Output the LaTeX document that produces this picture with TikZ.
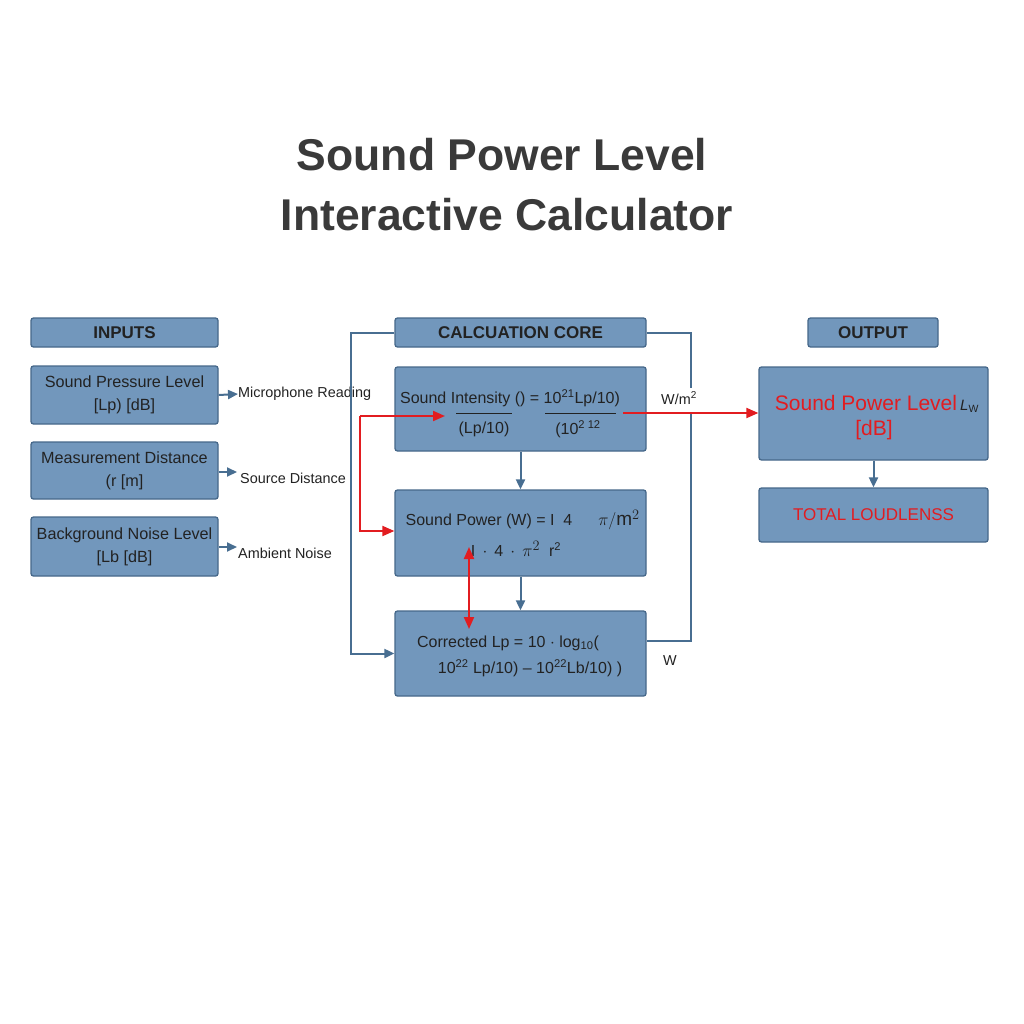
\documentclass[tikz,border=0pt]{standalone}
\usepackage{fontspec}
\setmainfont{Liberation Sans}
\usetikzlibrary{arrows.meta}
\definecolor{boxfill}{RGB}{114,151,188}
\definecolor{boxedge}{RGB}{70,104,138}
\definecolor{linecol}{RGB}{72,110,145}
\definecolor{redc}{RGB}{226,28,32}
\definecolor{txt}{RGB}{34,34,34}
\definecolor{titlec}{RGB}{58,58,58}
\tikzset{
  box/.style={draw=boxedge, fill=boxfill, rounded corners=2.5pt, line width=1.3pt, inner sep=0pt, text=txt, align=center, font=\fontsize{16.2}{23}\selectfont},
  head/.style={box, font=\fontsize{17}{21}\bfseries\selectfont},
  tx/.style={inner sep=0pt, text=txt, font=\fontsize{16}{19}\selectfont},
  lab/.style={inner sep=0pt, text=txt, font=\fontsize{14.4}{17}\selectfont},
  bl/.style={draw=linecol, line width=2pt},
  blarrow/.style={bl, -{Triangle[length=10pt,width=9pt]}},
  redarrow/.style={draw=redc, line width=2pt, -{Triangle[length=12pt,width=10pt]}},
}
\begin{document}
\begin{tikzpicture}[x=1pt,y=-1pt]
\useasboundingbox[fill=white] (0,0) rectangle (1024,1024);

% title
\node[inner sep=0pt, text=titlec, font=\fontsize{44.5}{50}\bfseries\selectfont] (t1) at (502,155) {Sound Power Level};
\node[inner sep=0pt, text=titlec, font=\fontsize{44.5}{50}\bfseries\selectfont] (t2) at (507,215) {Interactive Calculator};

% inputs column
\node[head, minimum width=187pt, minimum height=29pt] (inputs) at (124.5,332.5) {INPUTS};
\node[box, minimum width=187pt, minimum height=58pt] (spl) at (124.5,395) {Sound Pressure Level\\{[Lp) [dB]}};
\node[box, minimum width=187pt, minimum height=57pt] (md) at (124.5,470.5) {Measurement Distance\\(r [m]};
\node[box, minimum width=187pt, minimum height=59pt] (bnl) at (124.5,546.5) {Background Noise Level\\{[Lb [dB]}};

\node[lab, anchor=west] (mic) at (238,394) {Microphone Reading};
\node[lab, anchor=west] (src) at (240,478) {Source Distance};
\node[lab, anchor=west] (amb) at (238,553) {Ambient Noise};
\coordinate (srcin) at (237,472);
\coordinate (ambin) at (237,547);
\draw[blarrow] (spl.east) -- (mic.west);
\draw[blarrow] (md.east |- srcin) -- (srcin);
\draw[blarrow] (bnl.east |- ambin) -- (ambin);

% core column
\node[head, minimum width=251pt, minimum height=29pt] (core) at (520.5,332.5) {CALCUATION CORE};
\node[box, minimum width=251pt, minimum height=84pt] (si) at (520.5,409) {};
\node[box, minimum width=251pt, minimum height=86pt] (sp) at (520.5,533) {};
\node[box, minimum width=251pt, minimum height=85pt] (corr) at (520.5,653.5) {};

% sound intensity text
\node[tx] (si1) at (510,398) {Sound Intensity () = 10\textsuperscript{21}Lp/10)};
\node[tx] (si2) at (484,429) {(Lp/10)};
\node[tx] (si3) at (578,429) {(10\textsuperscript{2 12}};
\draw[txt, line width=0.9pt] (456,413) -- (512,413);
\draw[txt, line width=0.9pt] (545,413) -- (616,413);

% sound power text
\node[tx] (sp1) at (489,521) {Sound Power (W) = I\ \ 4};
\node[tx, font=\fontsize{19}{21}\selectfont] (sp2) at (619,520) {$\pi/\mathrm{m}^2$};
\node[tx] (sp3) at (516,549) {I \,$\cdot$\, 4 \,$\cdot$\, \fontsize{19}{21}\selectfont$\pi^2$\fontsize{16}{19}\selectfont\ \ r\textsuperscript{2}};

% corrected text
\node[tx] (c1) at (508,643) {Corrected Lp = 10 $\cdot$ log\textsubscript{10}(};
\node[tx] (c2) at (530,668) {10\textsuperscript{22} Lp/10) -- 10\textsuperscript{22}Lb/10) )};

% output column
\node[head, minimum width=130pt, minimum height=29pt] (outh) at (873,332.5) {OUTPUT};
\node[box, minimum width=229pt, minimum height=93pt] (out) at (873.5,413.5) {};
\node[inner sep=0pt, text=redc, font=\fontsize{21}{24}\selectfont] (o1) at (866,403) {Sound Power Level};
\node[inner sep=0pt, text=txt, anchor=west, font=\fontsize{15}{16}\selectfont] (o2) at (960,406) {\textit{L}\textsubscript{W}};
\node[inner sep=0pt, text=redc, font=\fontsize{21}{24}\selectfont] (o3) at (874,430) {[dB]};
\node[box, minimum width=229pt, minimum height=54pt, text=redc, font=\fontsize{17}{20}\selectfont] (tl) at (873.5,515) {TOTAL LOUDLENSS};

% blue connectors
\draw[blarrow] (core.west) -- (351,332.5) |- (corr.west);
\coordinate (gaptop) at (691,388);
\coordinate (gapbot) at (691,413);
\draw[bl] (core.east) -| (gaptop);
\draw[bl] (gapbot) |- ([yshift=12.5pt]corr.east);
\draw[blarrow] (si.south) -- (sp.north);
\draw[blarrow] (sp.south) -- (corr.north);
\draw[blarrow] (out.south) -- (tl.north);
\node[lab] (wm) at (679,398) {W/m\textsuperscript{2}};
\node[lab] (w) at (670,661) {W};

% red connectors
\coordinate (rj) at (360,416);
\coordinate (sitip) at (445,416);
\draw[redarrow] (rj) -- (sitip);
\draw[redarrow] (rj) |- ([yshift=2pt]sp.west);
\coordinate (siout) at (623,413);
\draw[redarrow] (siout) -- (out.west |- siout);
\coordinate (dtop) at (469,547);
\coordinate (dbot) at (469,629);
\draw[draw=redc, line width=2pt, {Triangle[length=12pt,width=10pt]}-{Triangle[length=12pt,width=10pt]}] (dtop) -- (dbot);
\end{tikzpicture}
\end{document}
